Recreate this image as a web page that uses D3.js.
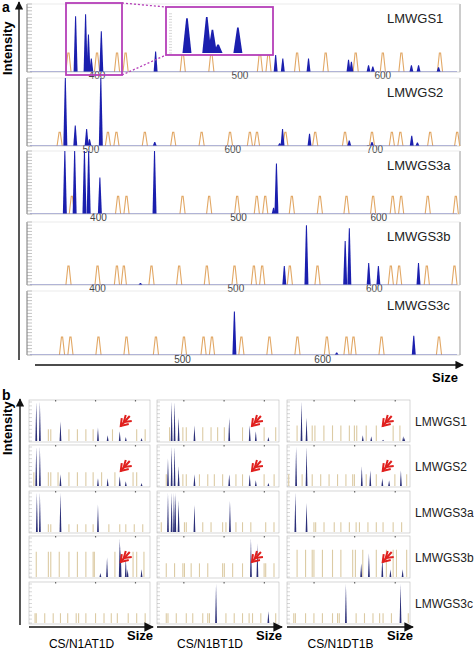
<!DOCTYPE html>
<html><head><meta charset="utf-8">
<script src="https://cdn.jsdelivr.net/npm/d3@7"></script>
<style>body{margin:0;background:#fff}</style></head>
<body><svg id="c" width="474" height="650"></svg>
<script>
// ---------- Panel a data: [size, relative height] ----------
const aNames = ["LMWGS1","LMWGS2","LMWGS3a","LMWGS3b","LMWGS3c"];
const aDomains = [[351,654],[455,760],[349,658],[349,662],[389,698]];
const aTicks = [[400,500,600],[500,600,700],[400,500,600],[400,500,600],[500,600]];
const aBlue1 = [[385,.82],[392,.85],[394,.55],[396,.2],[403,.6],[441,.3],[525,.25],[530,.2],[548,.2],[576,.18],[578,.15],[590,.1],[593,.08],[620,.1],[625,.1],[639,.07]];
const aBlue2 = [[482,1.0],[489,.3],[497,.25],[499,.1],[507,1.0],[545,.06],[633,.04],[635,.25],[654,.18],[682,.08],[698,.06],[726,.15],[730,.05]];
const aBlue3 = [[376,1.0],[383,1.0],[390,1.0],[393,1.0],[401,.58],[440,1.0],[527,.8],[525,.1]];
const aBlue4 = [[431,.03],[535,.3],[551,.95],[579,.7],[582,.9],[596,.35],[603,.3],[632,.35]];
const aBlue5 = [[537,.68],[610,.04],[665,.3]];
const aOrange1 = [380,400,414,420,460,480,514,520,540,560,581,600,613,640];
const aOrange2 = [478,512,518,538,558,578,598,612,617,637,658,679,698,712,718,739,758];
const aOrange3 = [381,414,420,460,479,499,513,519,538,558,577,596,610,616,635,655];
const aOrange4 = [379,400,414,419,439,459,479,499,513,519,539,559,612,618,638,658];
const aOrange5 = [414,420,440,460,481,501,515,521,542,562,582,603,617,622,642,683];
const aOrangeH = [.28,.2,.28,.3,.28];
const aBlue = [aBlue1,aBlue2,aBlue3,aBlue4,aBlue5];
const aOrange = [aOrange1,aOrange2,aOrange3,aOrange4,aOrange5];
const insetDomain = [379,414];

// ---------- Panel b data: [fraction along cell, relative height] ----------
const bRows = ["LMWGS1","LMWGS2","LMWGS3a","LMWGS3b","LMWGS3c"];
const bCols = ["CS/N1AT1D","CS/N1BT1D","CS/N1DT1B"];
const bBlue = [
 [ [[.06,1],[.09,1],[.26,.5],[.57,.35],[.65,.15],[.75,.25],[.80,.1],[.93,.08]],
   [[.06,1],[.09,1],[.26,.3],[.57,.2],[.65,.2],[.75,.25],[.80,.12],[.93,.08]],
   [[.065,1],[.09,1],[.26,1],[.57,.7]],
   [[.59,.1],[.645,.5],[.75,1],[.757,.8],[.80,.5],[.815,.2],[.93,.2]],
   [] ],
 [ [[.12,1],[.144,1],[.177,.6],[.307,.4],[.592,.6],[.76,.4],[.81,.25],[.913,.1]],
   [[.09,.7],[.12,1],[.144,1],[.177,.5],[.307,.3],[.592,.3],[.76,.3],[.81,.15],[.913,.08]],
   [[.09,1],[.12,1],[.139,1],[.15,1],[.177,.8],[.307,.7],[.598,.8]],
   [[.77,1],[.823,.85]],
   [[.484,1],[.913,.3]] ],
 [ [[.118,1],[.159,.6],[.616,.15],[.685,.12],[.781,.03],[.945,.12],[.953,.08]],
   [[.074,1],[.159,1],[.608,.5],[.677,.4],[.775,.2],[.83,.15],[.926,.4]],
   [[.068,1],[.159,.75]],
   [[.603,.35],[.666,.6],[.775,.5],[.841,.2],[.94,.2]],
   [[.479,1],[.923,1]] ]
];
const bOrange = [
 [ [.16,.18,.33,.40,.47,.53,.69,.89,.96],
   [.04,.16,.18,.24,.33,.40,.47,.53,.6,.71,.86,.89],
   [.16,.18,.33,.40,.47,.53,.66,.75,.80,.87,.94],
   [.06,.16,.18,.25,.33,.40,.47,.53,.54,.71,.86,.89,.95],
   [.05,.06,.13,.2,.26,.32,.39,.41,.47,.55,.62,.68,.73,.82,.89,.96] ],
 [ [.103,.212,.24,.375,.443,.497,.552,.701,.878,.973],
   [.076,.212,.24,.348,.416,.47,.538,.647,.701,.878,.96],
   [.035,.225,.24,.375,.443,.538,.565,.647,.701,.769,.891,.959],
   [.076,.144,.212,.225,.28,.348,.416,.538,.552,.62,.701,.878,.891,.959],
   [.076,.09,.158,.24,.293,.375,.416,.43,.565,.633,.701,.755,.783,.851,.973] ] ,
 [ [.082,.205,.227,.3,.37,.438,.507,.548,.567,.644,.726,.863,.918],
   [.014,.123,.205,.274,.342,.411,.479,.534,.548,.644,.726,.877,.973],
   [.219,.233,.301,.384,.438,.507,.562,.589,.658,.726,.781,.863,.932],
   [.082,.151,.205,.219,.288,.37,.438,.534,.556,.616,.726,.808,.863,.89,.973],
   [.055,.068,.151,.219,.288,.37,.411,.425,.562,.63,.699,.753,.781,.849,.986] ]
];
const bOrangeH = [[.3,.35,.2,.65,.25],[.35,.3,.25,.35,.25],[.4,.3,.25,.7,.25]];
const bArrows = [[0,0,.75],[0,1,.75],[0,3,.75],[1,0,.77],[1,1,.77],[1,3,.77],[2,0,.77],[2,1,.77],[2,3,.77]];

// ---------- drawing ----------
const svg = d3.select("#c");
const BLUE="#1b1fae", NAVY="#2b2f78", ORANGE="#e2a866", TAN="#dccba4", MAG="#b53fb9";
const FF="Liberation Sans, Arial";

svg.append("defs").append("marker").attr("id","ah").attr("viewBox","0 0 10 10")
  .attr("refX",9).attr("refY",5).attr("markerWidth",6).attr("markerHeight",6).attr("orient","auto")
  .append("path").attr("d","M0,0L10,5L0,10z").attr("fill","#111");

// Panel a
const aBoxes = [[4,72],[78,146],[151,214],[222,285],[291,355]];
const X0=27, X1=460;
aBoxes.forEach(([top,bot],i)=>{
  const x = d3.scaleLinear().domain(aDomains[i]).range([X0,X1]);
  const y = d3.scaleLinear().domain([0,1]).range([bot,top]);
  const g = svg.append("g");
  g.append("line").attr("x1",X0).attr("x2",X0).attr("y1",top).attr("y2",bot).attr("stroke","#555").attr("stroke-width",0.8);
  g.append("line").attr("x1",X1).attr("x2",X1).attr("y1",top).attr("y2",bot).attr("stroke","#999").attr("stroke-width",1);
  g.append("line").attr("x1",X0).attr("x2",X1).attr("y1",top).attr("y2",top).attr("stroke","#ddd").attr("stroke-width",0.6);
  g.append("line").attr("x1",X0).attr("x2",X1).attr("y1",bot).attr("y2",bot).attr("stroke","#bbb").attr("stroke-width",0.6);
  g.selectAll(".lt").data(d3.range(0,1.001,0.05)).join("line")
    .attr("x1",X0).attr("x2",X0+5).attr("y1",d=>y(d)).attr("y2",d=>y(d)).attr("stroke","#888").attr("stroke-width",0.5);
  g.selectAll(".tl").data(aTicks[i]).join("text").attr("x",d=>x(d)).attr("y",bot+(i==4?8:7))
    .attr("text-anchor","middle").attr("font-size",10).attr("font-family",FF).attr("fill","#444").text(d=>d);
  const hO = aOrangeH[i];
  g.selectAll(".op").data(aOrange[i]).join("path")
    .attr("d",d=>`M${x(d)-2.6},${bot}L${x(d)-0.6},${y(hO)}L${x(d)+0.6},${y(hO)}L${x(d)+2.6},${bot}`)
    .attr("fill","none").attr("stroke",ORANGE).attr("stroke-width",1.1);
  g.selectAll(".bp").data(aBlue[i]).join("path")
    .attr("d",d=>`M${x(d[0])-2},${bot}L${x(d[0])-0.5},${y(d[1])}L${x(d[0])+0.5},${y(d[1])}L${x(d[0])+2},${bot}Z`)
    .attr("fill",BLUE);
  g.append("line").attr("x1",X0+3).attr("x2",X1-3).attr("y1",bot-0.5).attr("y2",bot-0.5).attr("stroke","#8a8fc8").attr("stroke-width",0.6);
  g.append("text").attr("x",387).attr("y",top+19).attr("font-size",13).attr("font-family",FF).attr("fill","#222").text(aNames[i]);
});

// Inset magnifier
{
  const bx0=66,bx1=122,by0=3,by1=75;
  const ix0=166,ix1=273,iy0=7,iy1=55;
  svg.append("rect").attr("x",bx0).attr("y",by0).attr("width",bx1-bx0).attr("height",by1-by0).attr("fill","none").attr("stroke",MAG).attr("stroke-width",1.8);
  svg.append("rect").attr("x",ix0).attr("y",iy0).attr("width",ix1-ix0).attr("height",iy1-iy0).attr("fill","#fff").attr("stroke",MAG).attr("stroke-width",1.8);
  svg.append("line").attr("x1",bx1).attr("y1",by0).attr("x2",ix0).attr("y2",iy0).attr("stroke",MAG).attr("stroke-width",1.3).attr("stroke-dasharray","2,2");
  svg.append("line").attr("x1",bx1).attr("y1",by1).attr("x2",ix0).attr("y2",iy1).attr("stroke",MAG).attr("stroke-width",1.3).attr("stroke-dasharray","2,2");
  const x = d3.scaleLinear().domain(insetDomain).range([ix0+4,ix1-4]);
  const y = d3.scaleLinear().domain([0,0.85]).range([iy1-2,iy0+10]);
  svg.selectAll(".ilt").data(d3.range(0,1.001,0.07)).join("line").attr("x1",ix0+3).attr("x2",ix0+6).attr("y1",d=>iy1-2-d*40).attr("y2",d=>iy1-2-d*40).attr("stroke","#999").attr("stroke-width",0.4);
  svg.selectAll(".ip").data(aBlue1.filter(d=>d[0]>insetDomain[0]&&d[0]<insetDomain[1])).join("path")
    .attr("d",d=>`M${x(d[0])-4.5},${iy1-2}L${x(d[0])-0.8},${y(d[1])}L${x(d[0])+0.8},${y(d[1])}L${x(d[0])+4.5},${iy1-2}Z`).attr("fill",BLUE);
}

// Panel a axes
svg.append("line").attr("x1",19).attr("x2",19).attr("y1",360).attr("y2",2).attr("stroke","#111").attr("stroke-width",1.4).attr("marker-end","url(#ah)");
svg.append("line").attr("x1",35).attr("x2",463).attr("y1",365).attr("y2",365).attr("stroke","#111").attr("stroke-width",1.4).attr("marker-end","url(#ah)");
svg.append("text").attr("x",432).attr("y",382).attr("font-size",13).attr("font-weight","bold").attr("font-family",FF).text("Size");
svg.append("text").attr("transform","translate(12,75) rotate(-90)").attr("font-size",13).attr("font-weight","bold").attr("font-family",FF).text("Intensity");
svg.append("text").attr("x",2).attr("y",12).attr("font-size",14).attr("font-weight","bold").attr("font-family",FF).text("a");

// Panel b
const colX = [[29,150],[157,279],[287,410]];
const rowTop = [400,445,491,536,582];
const rowH = 42;
bCols.forEach((cn,ci)=>{
  const x = d3.scaleLinear().domain([0,1]).range(colX[ci]);
  rowTop.forEach((t,ri)=>{
    const bot=t+rowH;
    const y = d3.scaleLinear().domain([0,1]).range([bot-1,t+2]);
    const g = svg.append("g");
    g.append("rect").attr("x",colX[ci][0]).attr("y",t).attr("width",colX[ci][1]-colX[ci][0]).attr("height",rowH).attr("fill","none").attr("stroke","#bbb").attr("stroke-width",0.6);
    g.selectAll(".lt").data(d3.range(0,1.001,0.1)).join("line").attr("x1",colX[ci][0]).attr("x2",colX[ci][0]+3).attr("y1",d=>y(d)).attr("y2",d=>y(d)).attr("stroke","#999").attr("stroke-width",0.4);
    g.selectAll(".tt").data([.22,.55,.88]).join("line").attr("x1",d=>x(d)).attr("x2",d=>x(d)).attr("y1",t).attr("y2",t+1.5).attr("stroke","#666").attr("stroke-width",1.2);
    const hO = bOrangeH[ci][ri];
    g.selectAll(".o").data(bOrange[ci][ri]).join("line").attr("x1",d=>x(d)).attr("x2",d=>x(d)).attr("y1",bot-1).attr("y2",y(hO)).attr("stroke",TAN).attr("stroke-width",1.1);
    g.selectAll(".b").data(bBlue[ci][ri]).join("path")
      .attr("d",d=>`M${x(d[0])-0.9},${bot-1}L${x(d[0])},${y(d[1])}L${x(d[0])+0.9},${bot-1}Z`).attr("fill",NAVY);
    if(ci==0) svg.append("text").attr("x",415).attr("y",t+rowH/2+5).attr("font-size",12).attr("font-family",FF).attr("fill","#222").text(bRows[ri]);
  });
  svg.append("line").attr("x1",colX[ci][0]).attr("x2",colX[ci][1]+3).attr("y1",627).attr("y2",627).attr("stroke","#111").attr("stroke-width",1.6).attr("marker-end","url(#ah)");
  svg.append("text").attr("x",colX[ci][1]+3).attr("y",640).attr("text-anchor","end").attr("font-size",13).attr("font-weight","bold").attr("font-family",FF).text("Size");
  svg.append("text").attr("x",(colX[ci][0]+colX[ci][1])/2-8).attr("y",648).attr("text-anchor","middle").attr("font-size",12).attr("font-family",FF).text(cn);
});
// red arrows
bArrows.forEach(([ci,ri,f])=>{
  const x = d3.scaleLinear().domain([0,1]).range(colX[ci]);
  const px=x(f)+1, py=rowTop[ri]+rowH*0.62;
  const g=svg.append("g").attr("stroke","#e0201e").attr("stroke-width",2).attr("fill","none");
  g.append("line").attr("x1",px+9).attr("y1",py-10).attr("x2",px).attr("y2",py);
  g.append("path").attr("d",`M${px+1},${py-8}L${px},${py}L${px+8},${py-2}`);
  g.append("path").attr("d",`M${px+5},${py-11}L${px+3},${py-4}L${px+11},${py-5}`);
});
svg.append("line").attr("x1",20).attr("x2",20).attr("y1",625).attr("y2",399).attr("stroke","#111").attr("stroke-width",1.4).attr("marker-end","url(#ah)");
svg.append("text").attr("transform","translate(12,455) rotate(-90)").attr("font-size",13).attr("font-weight","bold").attr("font-family",FF).text("Intensity");
svg.append("text").attr("x",2).attr("y",400).attr("font-size",14).attr("font-weight","bold").attr("font-family",FF).text("b");
</script></body></html>
